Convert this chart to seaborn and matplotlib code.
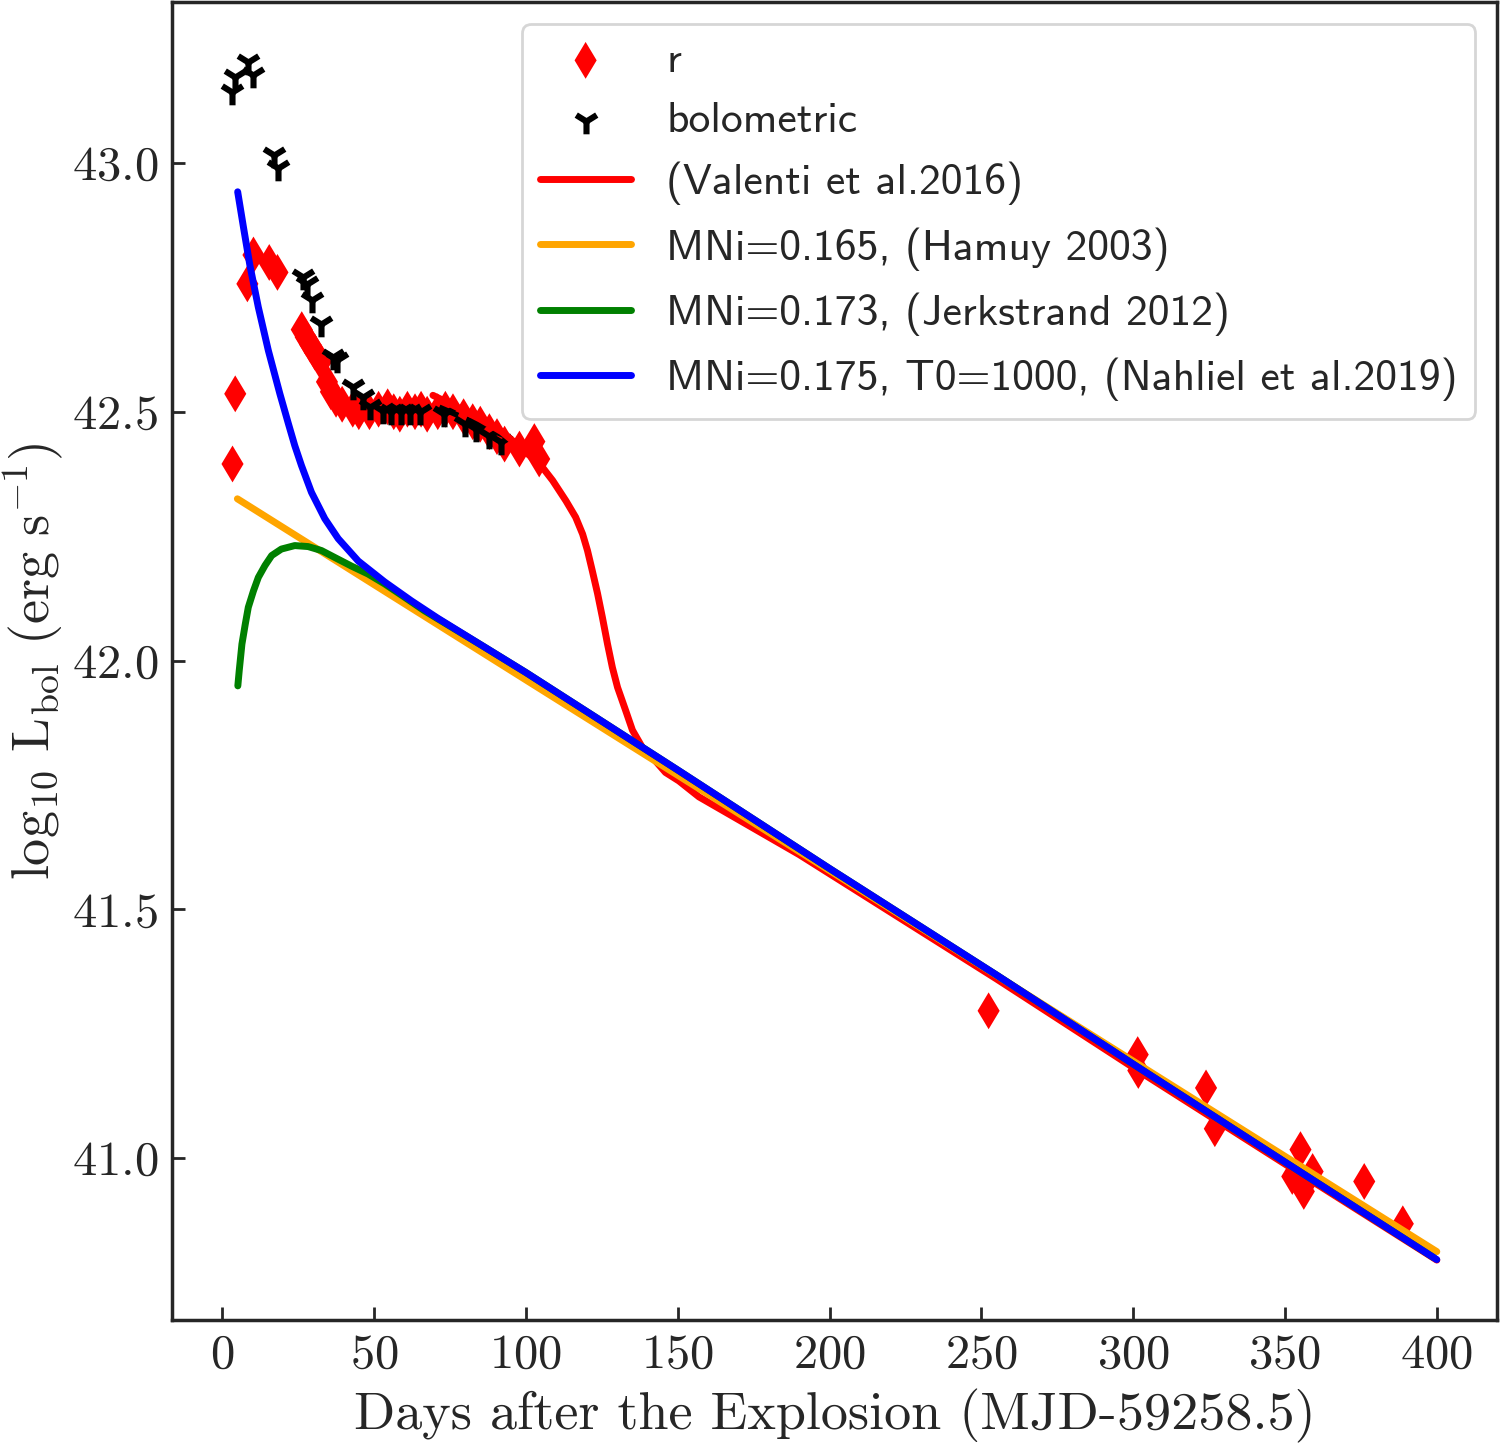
import matplotlib
matplotlib.use("Agg")
import matplotlib.pyplot as plt
import seaborn as sns

# %%
# r-band based luminosity (red diamonds)
r_days = [3.4, 4.3, 8.3, 10.3, 15.5, 18.2, 26.2, 27.5, 29.0, 30.5, 32.5, 34.5,
          35.8, 37.5, 39.5, 43.0, 45.0, 48.5, 51.5, 54.5, 56.5, 58.5, 61.0,
          63.5, 65.5, 67.5, 71.0, 73.5, 76.0, 79.5, 82.5, 85.0, 88.0, 90.5,
          93.0, 97.9, 102.8, 104.4,
          252.4, 301.5, 301.7, 324.0, 326.9, 355.1, 352.4, 359.1, 356.2,
          376.1, 388.8]
r_logl = [42.395, 42.536, 42.757, 42.815, 42.800, 42.780, 42.665, 42.650,
          42.635, 42.620, 42.600, 42.560, 42.540, 42.525, 42.515, 42.505,
          42.500, 42.500, 42.505, 42.510, 42.500, 42.495, 42.505, 42.500,
          42.505, 42.495, 42.500, 42.505, 42.500, 42.490, 42.480, 42.475,
          42.460, 42.450, 42.435, 42.425, 42.440, 42.405,
          41.296, 41.208, 41.176, 41.141, 41.059, 41.017, 40.963, 40.973,
          40.933, 40.953, 40.868]

# bolometric points (black tri markers)
bol_days = [3.3, 4.3, 8.6, 10.3, 16.9, 18.5, 26.7, 27.8, 29.5, 32.7, 36.6,
            37.7, 43.1, 46.4, 48.6, 52.9, 55.7, 59.0, 61.7, 65.0, 73.2, 79.8,
            83.6, 88.0, 91.8]
bol_logl = [43.143, 43.173, 43.203, 43.176, 43.015, 42.990, 42.770, 42.757,
            42.724, 42.677, 42.610, 42.603, 42.550, 42.530, 42.509, 42.502,
            42.499, 42.499, 42.499, 42.499, 42.496, 42.475, 42.465, 42.452,
            42.439]

# short dashed bolometric segment
boldash_days = [71.5, 95.6]
boldash_logl = [42.509, 42.445]

# model curves
valenti_days = [69.4, 77.0, 85.0, 92.0, 98.0, 105.5, 108.8, 113.2, 116.4,
                118.7, 120.3, 121.9, 123.6, 125.2, 126.9, 128.5, 130.2, 132.9,
                135.1, 138.4, 141.7, 146.0, 150.4, 157.0, 190.0, 255.0, 300.0,
                350.0, 400.0]
valenti_logl = [42.533, 42.510, 42.485, 42.460, 42.430, 42.388, 42.362,
                42.321, 42.288, 42.254, 42.221, 42.180, 42.135, 42.087, 42.033,
                41.986, 41.946, 41.899, 41.860, 41.825, 41.805, 41.775, 41.758,
                41.726, 41.610, 41.360, 41.182, 40.988, 40.795]

hamuy_days = [5, 100, 200, 300, 400]
hamuy_logl = [42.325, 41.961, 41.578, 41.195, 40.812]

jerk_days = [5.15, 5.6, 6.5, 7.6, 8.6, 10.3, 11.9, 14.1, 16.3, 19.5, 23.9,
             28.3, 32.7, 37.1, 42.5, 48.0, 53.5, 60.1, 66.6, 86.4, 100.0,
             124.0, 150.0, 200.0, 255.0, 300.0, 350.0, 399.0]
jerk_logl = [41.949, 41.979, 42.033, 42.073, 42.107, 42.140, 42.167, 42.191,
             42.211, 42.224, 42.231, 42.229, 42.221, 42.207, 42.190, 42.174,
             42.154, 42.127, 42.100, 42.027, 41.976, 41.882, 41.780, 41.582,
             41.368, 41.189, 40.992, 40.800]

nahliel_days = [5.1, 7.0, 9.1, 11.9, 15.2, 19.0, 21.8, 23.9, 26.1, 29.4, 33.8,
                38.2, 44.8, 53.5, 62.3, 71.0, 86.4, 100.0, 124.0, 150.0,
                200.0, 255.0, 300.0, 350.0, 400.0]
nahliel_logl = [42.942, 42.871, 42.795, 42.710, 42.623, 42.536, 42.476,
                42.432, 42.392, 42.338, 42.285, 42.245, 42.200, 42.158,
                42.120, 42.085, 42.027, 41.976, 41.882, 41.780, 41.582,
                41.368, 41.189, 40.992, 40.796]

# %%
sns.set_style("ticks")
plt.rcParams["font.family"] = ["cmr10", "DejaVu Serif"]
plt.rcParams["mathtext.fontset"] = "cm"
plt.rcParams["axes.formatter.use_mathtext"] = True

fig, ax = plt.subplots(figsize=(7.51, 7.24), dpi=200)
fig.subplots_adjust(left=0.1145, right=0.9967, top=0.9986, bottom=0.0884)

sns.scatterplot(x=r_days, y=r_logl, marker="d", s=88, color="red",
                edgecolor="none", label="r", ax=ax)
sns.scatterplot(x=bol_days, y=bol_logl, marker="1", s=85, color="black",
                linewidth=2.2, label="bolometric", ax=ax)
ax.plot(boldash_days, boldash_logl, "k--", lw=2.0)

sns.lineplot(x=valenti_days, y=valenti_logl, color="red", lw=2.5,
             estimator=None, sort=False, label="(Valenti et al.2016)", ax=ax)
sns.lineplot(x=hamuy_days, y=hamuy_logl, color="orange", lw=2.5,
             estimator=None, sort=False, label="MNi=0.165, (Hamuy 2003)", ax=ax)
sns.lineplot(x=jerk_days, y=jerk_logl, color="green", lw=2.5,
             estimator=None, sort=False,
             label="MNi=0.173, (Jerkstrand 2012)", ax=ax)
sns.lineplot(x=nahliel_days, y=nahliel_logl, color="blue", lw=2.5,
             estimator=None, sort=False,
             label="MNi=0.175, T0=1000, (Nahliel et al.2019)", ax=ax)

ax.set_xlabel("Days after the Explosion (MJD-59258.5)", fontsize=19.5)
ax.set_ylabel(r"$\log_{10}\,\mathrm{L_{bol}}\ (\mathrm{erg\ s^{-1}})$",
              fontsize=19.5, labelpad=2)
ax.set_xticks([0, 50, 100, 150, 200, 250, 300, 350, 400])
ax.set_yticks([41.0, 41.5, 42.0, 42.5, 43.0])
ax.tick_params(direction="in", length=4.6, width=1.0, labelsize=17.5, pad=5)
for sp in ax.spines.values():
    sp.set_linewidth(1.25)

leg = ax.legend(loc="upper right", handlelength=2.1,
                prop={"family": "cmss10", "size": 15.7})

plt.savefig("out.png")
